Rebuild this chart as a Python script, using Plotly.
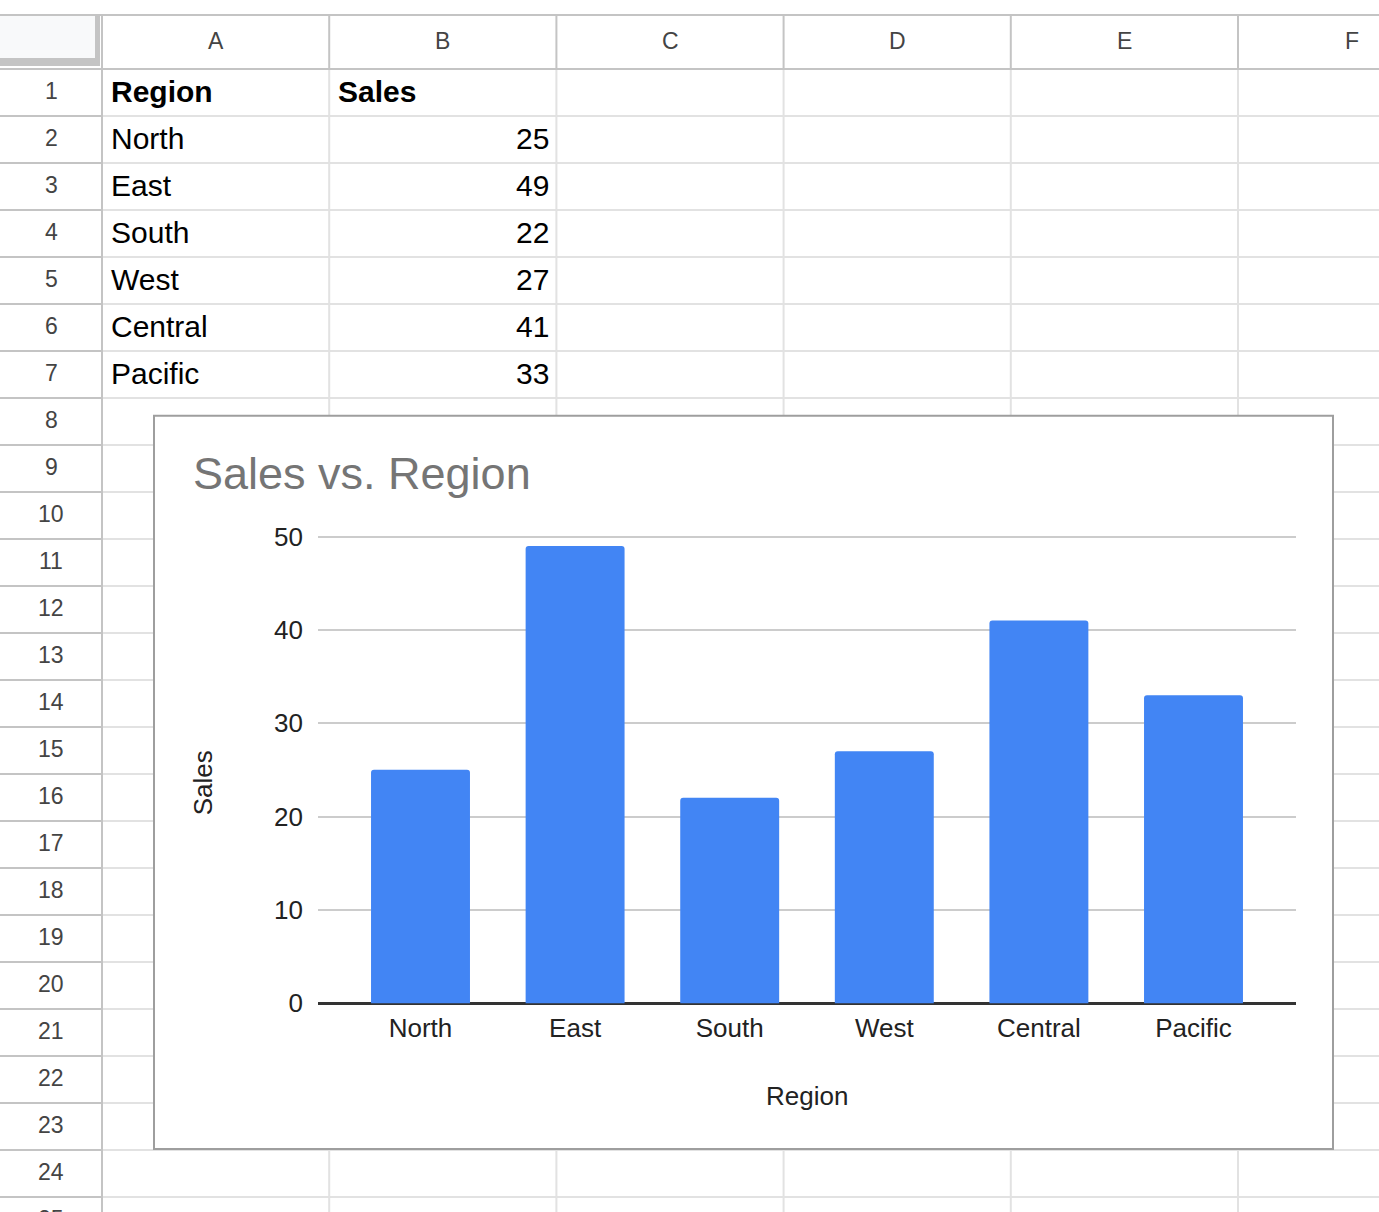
import plotly.graph_objects as go

# ---------------- data ----------------
regions = ["North", "East", "South", "West", "Central", "Pacific"]
sales = [25, 49, 22, 27, 41, 33]
col_letters = ["A", "B", "C", "D", "E", "F"]
header_cells = ["Region", "Sales"]
chart_title = "Sales vs. Region"
y_ticks = [0, 10, 20, 30, 40, 50]

# ---------------- geometry helpers (pixel -> paper) ----------------
W, H = 1379, 1212
# the page shows the figure 8px down and vertically fitted into 1196px
K = 1196.0 / 1212.0
def px(x):
    return x / W
def py(y):
    return 1 - ((y - 8) / K) / H

FONT = "Liberation Sans, Arial, sans-serif"
shapes = []
annotations = []

def line(x0, y0, x1, y1, color, width=2):
    shapes.append(dict(type="line", xref="paper", yref="paper",
                       x0=px(x0), y0=py(y0), x1=px(x1), y1=py(y1),
                       line=dict(color=color, width=width), layer="below"))

def rect(x0, y0, x1, y1, fill, lc=None, lw=0):
    shapes.append(dict(type="rect", xref="paper", yref="paper",
                       x0=px(x0), y0=py(y0), x1=px(x1), y1=py(y1),
                       fillcolor=fill,
                       line=dict(color=lc or fill, width=lw), layer="below"))

def text(x, y, s, size, color="#000000", xanchor="center", bold=False, angle=0):
    annotations.append(dict(xref="paper", yref="paper", x=px(x), y=py(y),
                            text=("<b>%s</b>" % s) if bold else s,
                            showarrow=False, xanchor=xanchor, yanchor="middle",
                            textangle=angle,
                            font=dict(family=FONT, size=size, color=color)))

# ---------------- spreadsheet grid ----------------
DARK = "#c4c4c4"
LIGHT = "#e2e2e2"
HEADER_TOP, HEADER_BOT = 14, 68
ROW_H = 47.04
ROWNUM_RIGHT = 102
col_edges = [ROWNUM_RIGHT + 227.2 * i for i in range(7)]

# body horizontal lines
for k in range(1, 26):
    y = HEADER_BOT + ROW_H * k
    line(ROWNUM_RIGHT, y, W, y, LIGHT)
    line(0, y, ROWNUM_RIGHT, y, DARK)
# body vertical lines
for x in col_edges[1:]:
    line(x, HEADER_BOT, x, H + 20, LIGHT)
    line(x, HEADER_TOP, x, HEADER_BOT, DARK)
line(ROWNUM_RIGHT, HEADER_TOP, ROWNUM_RIGHT, H + 20, DARK)
# header lines
line(0, HEADER_TOP, W, HEADER_TOP, DARK)
line(0, HEADER_BOT, W, HEADER_BOT, DARK)
# corner cell with freeze bars
rect(0, 15, 95, 57, "#f8f9fa")
rect(95, 15, 100, 65, DARK)
rect(0, 57, 100, 65, DARK)

# column letters
for i, c in enumerate(col_letters):
    text((col_edges[i] + col_edges[i + 1]) / 2, 40, c, 23, "#444444")
# row numbers
for r in range(1, 26):
    text(51, HEADER_BOT + ROW_H * (r - 0.5) - 1, str(r), 23, "#444444")

# table cells
ycell = lambda r: HEADER_BOT + ROW_H * (r - 0.5) - 0.5
text(109, ycell(1), header_cells[0], 30, xanchor="left", bold=True)
text(336, ycell(1), header_cells[1], 30, xanchor="left", bold=True)
for i, (reg, val) in enumerate(zip(regions, sales)):
    text(109, ycell(i + 2), reg, 30, xanchor="left")
    text(551, ycell(i + 2), str(val), 30, xanchor="right")

# ---------------- chart box ----------------
rect(154, 415, 1333, 1149, "#ffffff", "#9e9e9e", 2)

# chart title and axis titles
text(191, 473, chart_title, 45, "#757575", xanchor="left")
text(203, 783, "Sales", 26, "#222222", angle=-90)
text(807, 1096, "Region", 26, "#222222")

# ---------------- plot area ----------------
PL, PR = 318, 1296
Y0PX, Y50PX = 1003, 536
ppu = (Y0PX - Y50PX) / 50.0
DOM_TOP, DOM_BOT = 530, 1010
yr = [-(DOM_BOT - Y0PX) / ppu, (Y0PX - DOM_TOP) / ppu]

cat_px = 154.6
first_c = 420.5
xr = [-(first_c - PL) / cat_px, 5 + (PR - (first_c + 5 * cat_px)) / cat_px]

fig = go.Figure(go.Bar(x=regions, y=sales, marker=dict(color="#4285F4", cornerradius=3,
                                                       line=dict(width=0)),
                       hoverinfo="x+y"))

fig.update_layout(
    width=W, height=H,
    margin=dict(l=0, r=0, t=0, b=0),
    paper_bgcolor="#ffffff",
    plot_bgcolor="rgba(0,0,0,0)",
    bargap=0.36,
    showlegend=False,
    shapes=shapes,
    annotations=annotations,
    font=dict(family=FONT),
    xaxis=dict(domain=[px(PL), px(PR)], range=xr, showgrid=False, showline=False,
               zeroline=False, ticks="", ticklabelstandoff=0,
               tickfont=dict(family=FONT, size=26, color="#222222"), fixedrange=True),
    yaxis=dict(domain=[py(DOM_BOT), py(DOM_TOP)], range=yr, tickvals=y_ticks,
               showgrid=True, gridcolor="#cccccc", gridwidth=2,
               zeroline=True, zerolinecolor="#333333", zerolinewidth=2.5,
               showline=False, ticks="", ticklabelstandoff=14,
               tickfont=dict(family=FONT, size=26, color="#222222"), fixedrange=True),
)

fig.write_html("out.html",
               config={"displayModeBar": False},
               post_script="document.body.style.margin='0';document.body.style.overflow='hidden';")
